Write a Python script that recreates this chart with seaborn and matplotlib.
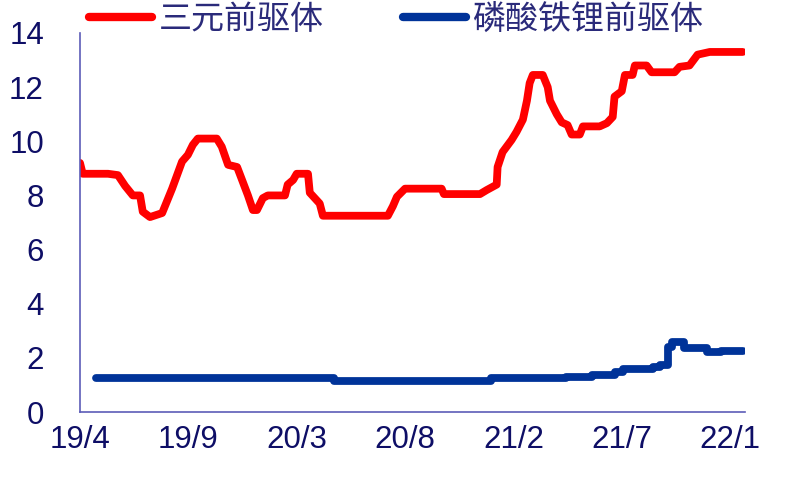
import matplotlib
matplotlib.use("Agg")
import matplotlib.pyplot as plt
import seaborn as sns
import pandas as pd

# ---- data (x = week index from 2019-04; ticks every 24 weeks) ----
tick_pos = [0, 24, 48, 72, 96, 120, 144]
tick_labels = ["19/4", "19/9", "20/3", "20/8", "21/2", "21/7", "22/1"]

red_w = [0.0, 0.6, 6.2, 8.4, 10.0, 11.7, 13.3, 13.9, 15.5, 18.2, 19.3, 20.4,
         21.5, 22.6, 23.9, 25.0, 26.1, 30.3, 31.4, 32.8, 34.8, 35.9, 37.2,
         38.3, 39.2, 40.5, 41.6, 45.4, 46.0, 47.2, 48.0, 50.5, 50.9, 52.0,
         53.1, 53.8, 68.2, 69.3, 70.2, 72.0, 80.1, 80.6, 88.6, 90.1, 92.3,
         92.5, 93.6, 95.6, 96.7, 98.1, 99.0, 99.6, 100.3, 102.5, 103.6,
         104.1, 105.6, 106.7, 108.0, 108.9, 110.7, 111.4, 115.1, 116.7,
         118.0, 118.4, 120.0, 120.7, 122.4, 122.9, 125.5, 126.6, 131.7,
         132.8, 135.0, 136.8, 139.5, 146.8]
red_v = [9.2, 8.8, 8.8, 8.75, 8.35, 8.0, 8.0, 7.4, 7.2, 7.35, 7.8, 8.25,
         8.75, 9.25, 9.5, 9.87, 10.1, 10.1, 9.8, 9.13, 9.05, 8.57, 8.0,
         7.46, 7.46, 7.9, 8.0, 8.0, 8.4, 8.57, 8.8, 8.8, 8.1, 7.9,
         7.7, 7.25, 7.25, 7.6, 7.95, 8.25, 8.25, 8.05, 8.05, 8.2, 8.4,
         9.05, 9.6, 10.05, 10.35, 10.8, 11.5, 12.15, 12.45, 12.45, 12.0,
         11.5, 11.0, 10.7, 10.6, 10.25, 10.25, 10.55, 10.55, 10.67,
         10.9, 11.65, 11.85, 12.45, 12.45, 12.8, 12.8, 12.55, 12.55,
         12.75, 12.8, 13.2, 13.3, 13.3]

blue_w = [3.5, 56.2, 91.1, 107.7, 113.3, 118.4, 120.2, 126.9, 128.4, 130.2,
          131.2, 133.7, 138.9, 141.9, 146.8]
blue_v = [1.25, 1.15, 1.25, 1.3, 1.37, 1.47, 1.6, 1.66, 1.72, 2.4,
          2.6, 2.36, 2.21, 2.27, 2.27]

series_names = ["三元前驱体", "磷酸铁锂前驱体"]
colors = ["#ff0000", "#003399"]

sns.set_style("white")
plt.rcParams["font.family"] = ["Liberation Sans", "Noto Sans CJK SC", "DejaVu Sans"]

fig = plt.figure(figsize=(7.88, 4.78), dpi=100)
ax = fig.add_axes([80 / 788, 1 - 412 / 478, (745 - 80) / 788, (412 - 33) / 478])

df_red = pd.DataFrame({"w": red_w, "v": red_v})
df_blue = pd.DataFrame({"w": blue_w, "v": blue_v})

line_kw = dict(linewidth=5.6, solid_capstyle="round", solid_joinstyle="round")
sns.lineplot(data=df_red, x="w", y="v", ax=ax, color=colors[0], estimator=None,
             sort=False, label=series_names[0], **line_kw)
sns.lineplot(data=df_blue, x="w", y="v", ax=ax, color=colors[1], estimator=None,
             sort=False, drawstyle="steps-post", label=series_names[1], **line_kw)

ax.set_xlim(0, 147.3)
ax.set_ylim(0, 14)
ax.set_yticks([0, 2, 4, 6, 8, 10, 12, 14])
ax.set_xticks(tick_pos)
ax.set_xticklabels(tick_labels)
ax.set_xlabel("")
ax.set_ylabel("")

spine_color = "#5c5cb8"
for s in ["top", "right"]:
    ax.spines[s].set_visible(False)
for s in ["left", "bottom"]:
    ax.spines[s].set_color(spine_color)
    ax.spines[s].set_linewidth(1.2)

label_color = "#0e0e66"
ax.tick_params(axis="both", direction="in", length=7.5, width=1.2,
               color=spine_color, labelcolor=label_color, labelsize=22.5)
ax.tick_params(axis="y", pad=26)
ax.tick_params(axis="x", pad=9)

ax.get_legend().remove()
handles, labels = ax.get_legend_handles_labels()
leg = fig.legend(handles, labels, loc="center left",
                 bbox_to_anchor=(89 / 788, 1 - 20 / 478), ncol=2, frameon=False,
                 fontsize=23.8, handlelength=1.9, handletextpad=0.2,
                 columnspacing=2.4, borderpad=0, borderaxespad=0)
for t in leg.get_texts():
    t.set_color("#2a2a7a")
for h in leg.get_lines():
    h.set_linewidth(6.0)
    h.set_solid_capstyle("round")

fig.savefig("out.png", dpi=100)
